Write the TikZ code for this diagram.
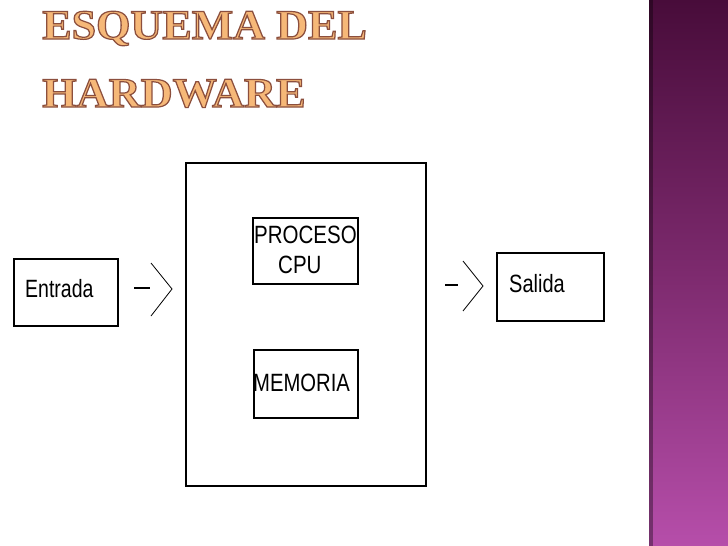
\documentclass[tikz,border=0pt]{standalone}
\usepackage{fontspec}
\setmainfont{Liberation Sans}
\newfontfamily\titlefont{Liberation Serif}
\definecolor{bartop}{RGB}{72,12,58}
\definecolor{barmid}{RGB}{125,42,110}
\definecolor{barbot}{RGB}{182,78,170}
\definecolor{titlefill}{RGB}{246,184,120}
\newcommand{\outlinedtext}[1]{\special{pdf:literal direct q 0.55 0.31 0.24 RG 1.2 w 2 Tr}#1\special{pdf:literal direct 0 Tr Q}}
\begin{document}
\begin{tikzpicture}[x=1pt,y=-1pt,
  box/.style={draw=black,line width=1.8pt,inner sep=0pt,anchor=north west},
  lbl/.style={anchor=base west,inner sep=0pt,font=\fontsize{25}{25}\selectfont},
  ttl/.style={anchor=base west,inner sep=0pt,font=\titlefont\bfseries\fontsize{42}{42}\selectfont},
  dashln/.style={line width=1.5pt},
  chev/.style={line width=0.8pt}]
\useasboundingbox (0,0) rectangle (728,546);
\fill[white] (0,0) rectangle (728,546);
% right bar
\shade[top color=bartop,bottom color=barbot,middle color=barmid] (649,0) rectangle (728,546);
\fill[black,opacity=0.35] (649,0) rectangle (653,546);
% title
\node[ttl,text=titlefill] (t1) at (42,39) {\scalebox{1.05}[1]{\outlinedtext{ESQUEMA DEL}}};
\node[ttl,text=titlefill] (t2) at (42,107) {\scalebox{1.055}[1]{\outlinedtext{HARDWARE}}};
% boxes
\node[box,minimum width=240pt,minimum height=323pt] (main) at (185,162) {};
\node[box,minimum width=104pt,minimum height=67pt] (entrada) at (13,258) {};
\node[box,minimum width=105pt,minimum height=66pt] (proceso) at (252,217) {};
\node[box,minimum width=104pt,minimum height=68pt] (memoria) at (253,349) {};
\node[box,minimum width=107pt,minimum height=68pt] (salida) at (496,252) {};
% labels
\node[lbl] (tentrada) at (25,297) {\scalebox{0.78}[1]{Entrada}};
\node[lbl] (tproceso) at (254,243) {\scalebox{0.82}[1]{PROCESO}};
\node[lbl] (tcpu) at (278,273) {\scalebox{0.82}[1]{CPU}};
\node[lbl] (tmemoria) at (253,391) {\scalebox{0.81}[1]{MEMORIA}};
\node[lbl] (tsalida) at (509,292) {\scalebox{0.8}[1]{Salida}};
% arrow 1
\coordinate (a1s) at (134,288);
\coordinate (a1e) at (150,288);
\coordinate (a1t) at (151,263);
\coordinate (a1p) at (172,289);
\coordinate (a1b) at (151,316);
\draw[dashln] (a1s) -- (a1e);
\draw[chev] (a1t) -- (a1p) -- (a1b);
% arrow 2
\coordinate (a2s) at (445,285);
\coordinate (a2e) at (458,285);
\coordinate (a2t) at (463,261);
\coordinate (a2p) at (483,286);
\coordinate (a2b) at (463,311);
\draw[line width=2.6pt] (a2s) -- (a2e);
\draw[chev] (a2t) -- (a2p) -- (a2b);
\end{tikzpicture}
\end{document}
